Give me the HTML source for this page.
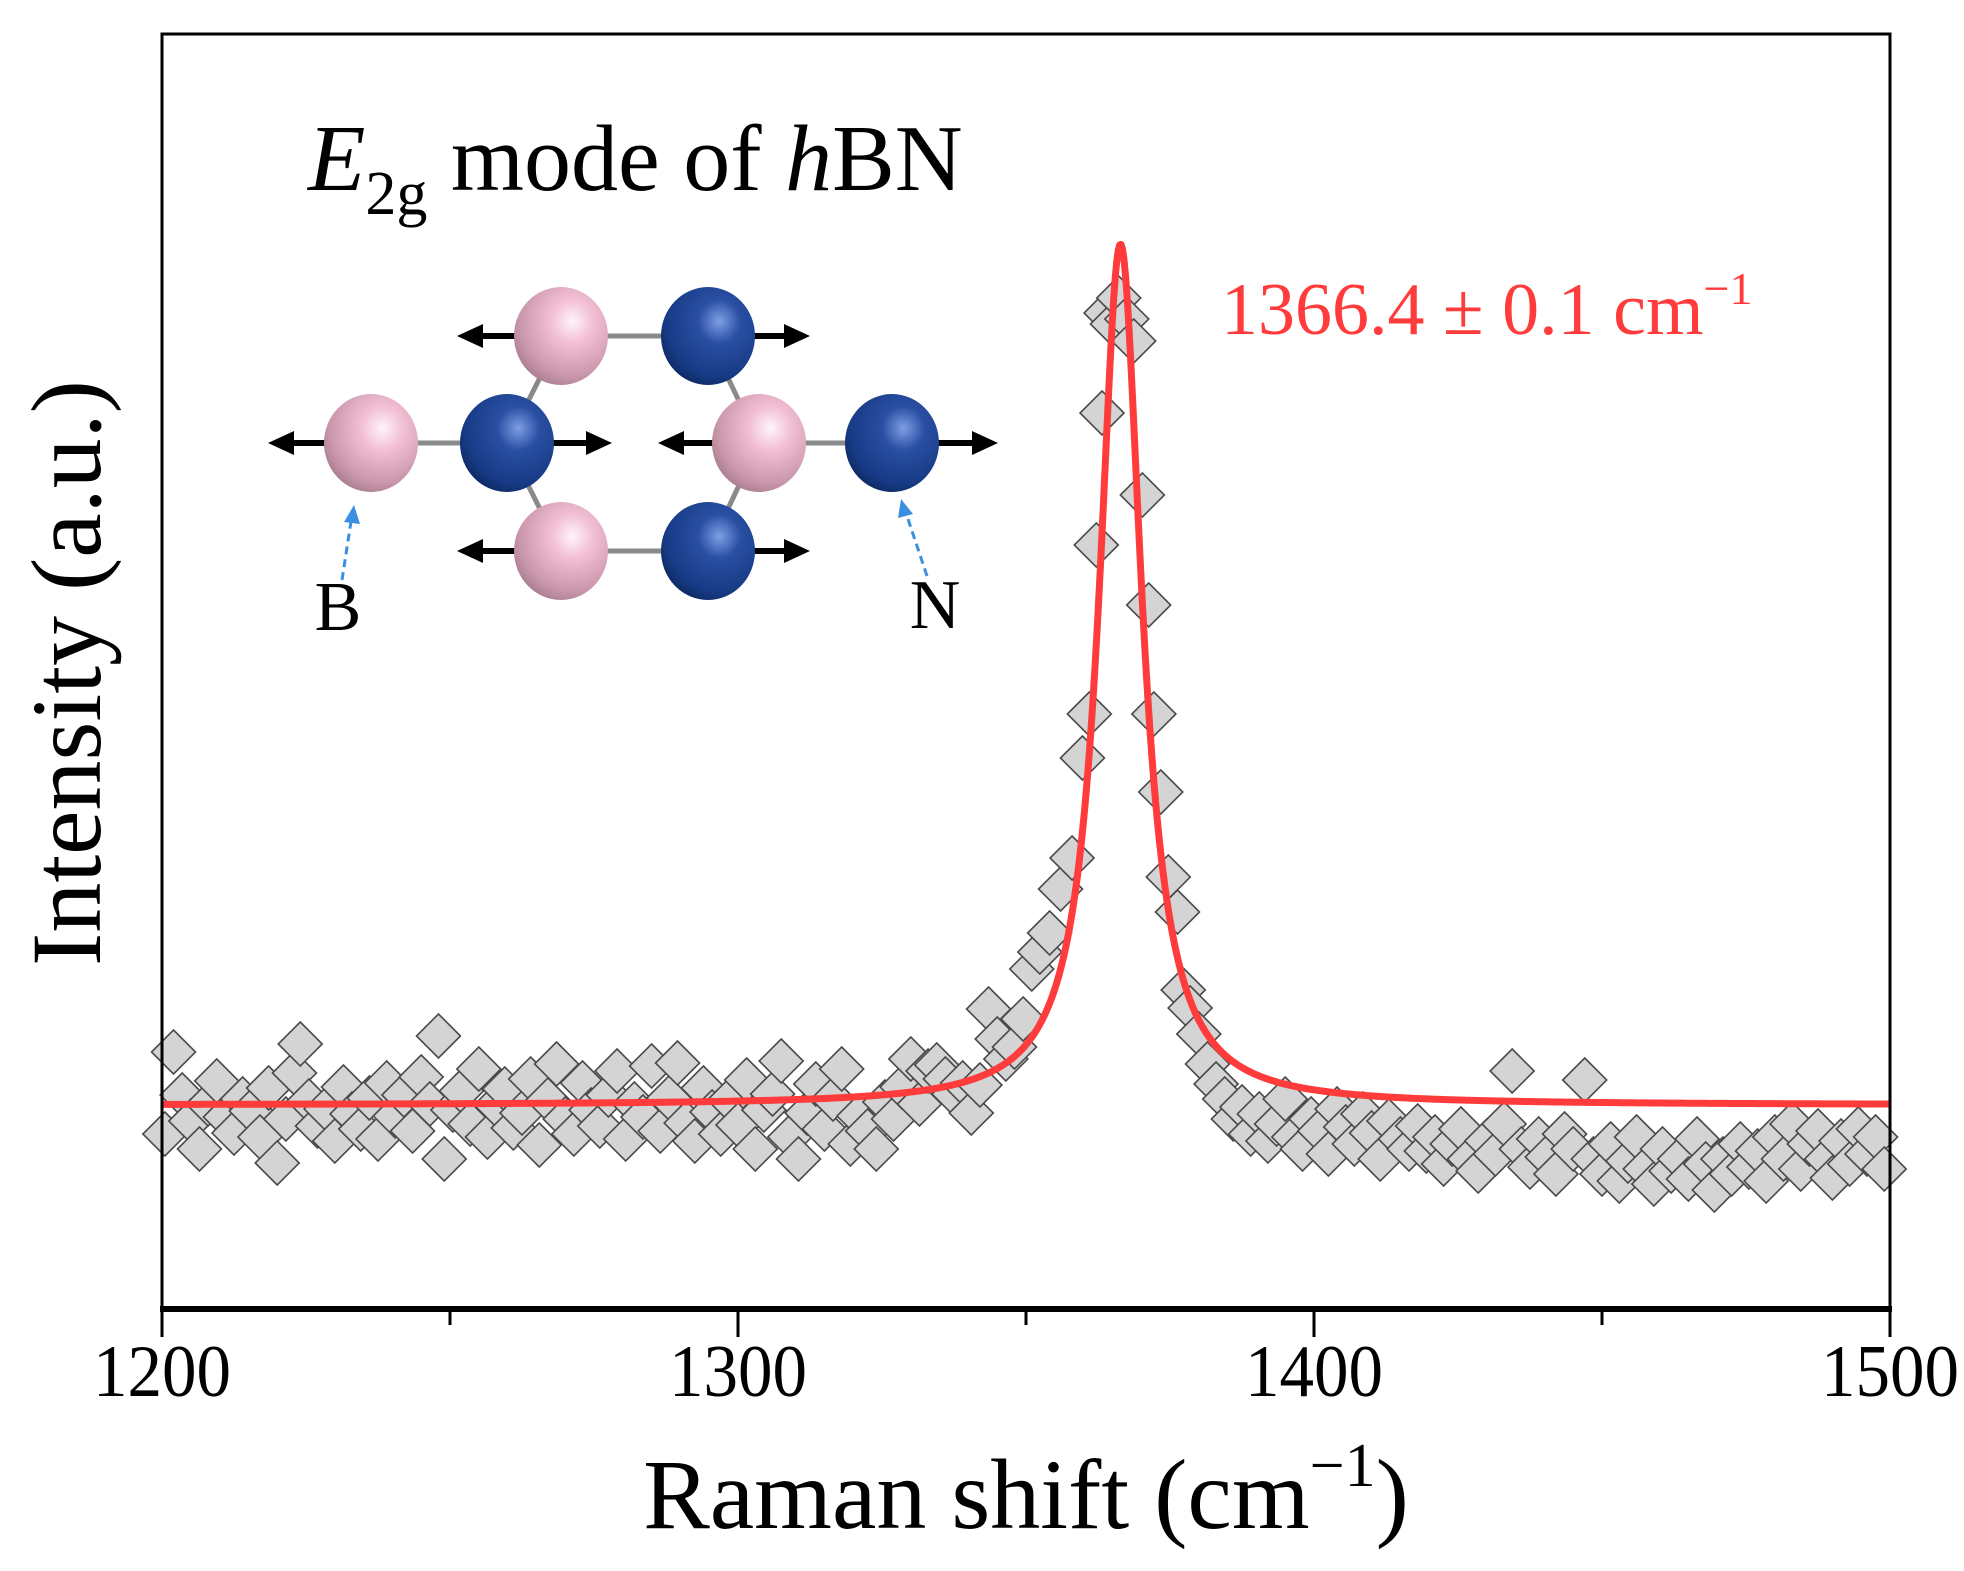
<!DOCTYPE html>
<html><head><meta charset="utf-8"><style>
html,body{margin:0;padding:0;background:#fff;}
svg{display:block;font-family:"Liberation Serif",serif;}
</style></head><body>
<svg id="chart" width="1964" height="1571" viewBox="0 0 1964 1571" xmlns="http://www.w3.org/2000/svg">
<defs>
<radialGradient id="gPink" cx="0.62" cy="0.35" r="0.75">
<stop offset="0" stop-color="#fff4fa"/><stop offset="0.3" stop-color="#f2bfd4"/><stop offset="0.75" stop-color="#c996ab"/><stop offset="1" stop-color="#9e7586"/>
</radialGradient>
<radialGradient id="gBlue" cx="0.62" cy="0.35" r="0.75">
<stop offset="0" stop-color="#7f9ee6"/><stop offset="0.3" stop-color="#2a4fa3"/><stop offset="0.75" stop-color="#173b85"/><stop offset="1" stop-color="#0b2459"/>
</radialGradient>
<marker id="ah" markerWidth="26" markerHeight="24" refX="4" refY="12" orient="auto" markerUnits="userSpaceOnUse" viewBox="0 0 26 24"><path d="M0,0 L26,12 L0,24 z" fill="#000"/></marker>
</defs>
<g id="marks"></g>
<g id="axes"></g>
<g id="inset"></g>
<text x="308" y="190" font-size="94"><tspan font-style="italic">E</tspan><tspan font-size="62" dy="24">2g</tspan><tspan dy="-24"> mode of </tspan><tspan font-style="italic">h</tspan><tspan>BN</tspan></text>
<text x="1221" y="334" font-size="74" fill="#ff3b3b">1366.4 ± 0.1 cm<tspan font-size="46" dy="-30">−1</tspan></text>
<text x="1026" y="1528" font-size="100" text-anchor="middle">Raman shift (cm<tspan font-size="62" dy="-42">−1</tspan><tspan dy="42">)</tspan></text>
<text transform="translate(100,673) rotate(-90)" font-size="100" text-anchor="middle">Intensity (a.u.)</text>
</svg>
<script>
const xData = [1200.5,1202,1203.5,1205,1206.5,1208,1209.5,1211,1212.5,1214,1215.5,1217,1218.5,1220,1221.5,1223,1224,1225.5,1227,1228.5,1230,1231.5,1233,1234.5,1236,1237.5,1239,1240.5,1242,1243.5,1245,1246.5,1248,1249,1250.5,1252,1253.5,1255,1256.5,1258,1259.5,1261,1262.5,1264,1265.5,1267,1268.5,1270,1271.5,1273,1274.5,1276,1277.5,1279,1280.5,1282,1283.5,1285,1286.5,1288,1289.5,1291,1292.5,1294,1295.5,1297,1298.5,1300,1301.5,1303,1304.5,1306,1307.5,1309,1310.5,1312,1313.5,1315,1316.5,1318,1319.5,1321,1322.5,1324,1325.5,1327,1328.5,1330,1331.5,1333,1334.5,1336,1337.5,1339,1340.5,1342,1343.5,1345,1346.5,1348,1349.5,1351,1352.4,1354.1,1356,1358,1359.8,1361,1362.2,1363.2,1363.9,1365,1366.1,1367.5,1368.7,1370.2,1371.3,1372.2,1373.4,1374.7,1376.3,1377.3,1378.5,1380,1381.5,1383,1384.5,1386,1387.5,1389,1390.5,1392,1393.5,1395,1396.5,1398,1399.5,1401,1402.5,1404,1405.5,1407,1408.5,1410,1411.5,1413,1415,1416.5,1418,1419.5,1421,1422.5,1424,1425.5,1427,1428.5,1430,1431.5,1433,1434.4,1436,1437.5,1439,1440.5,1442,1443.5,1445,1447,1448.5,1450,1451.5,1453,1454.5,1456,1457.5,1459,1460.5,1462,1463.5,1465,1466.5,1468,1469.5,1471,1472.5,1474,1475.5,1477,1478.5,1480,1481.5,1483,1484.5,1486,1487.5,1489,1490,1491.5,1493,1494.5,1496,1497.5,1499];
const yData = [175,257,214,188,160,205,228,192,176,210,198,172,221,146,190,236,265,208,183,200,168,222,195,180,211,170,226,193,214,178,232,205,273,150,199,218,185,240,172,204,220,181,196,230,164,209,245,190,175,226,199,183,214,238,170,205,192,243,178,211,246,186,168,221,197,175,209,184,229,160,199,215,248,172,150,196,225,180,210,240,165,193,178,160,207,190,222,250,205,238,244,230,215,226,196,224,300,270,250,262,290,340,357,376,420,451,551,595,764,896,996,985,1011,990,968,814,704,595,517,432,397,319,301,275,245,225,210,190,202,175,195,168,185,210,172,160,190,178,155,200,182,165,195,176,150,188,170,160,183,158,172,145,165,180,150,138,168,155,185,238,160,142,170,152,135,175,160,229,150,135,165,128,148,172,140,125,160,138,150,130,170,145,119,150,135,165,142,158,128,172,150,185,140,165,178,150,131,168,145,180,155,172,140];
const fitCenter = [1366.4];
const fitFwhm = [9];
const fitAmplitude = [861];
const fitBaseline = [204];
const xTicks = [1200,1300,1400,1500];
const xMinorTicks = [1250,1350,1450];

const L=162,R=1890,T=34,B=1309;
const xMin=1200,xMax=1500;
function sx(v){return L+(v-xMin)/(xMax-xMin)*(R-L);}
function sy(v){return B-v;}
const NS="http://www.w3.org/2000/svg";
function mk(tag,attrs,parent){const e=document.createElementNS(NS,tag);for(const k in attrs)e.setAttribute(k,attrs[k]);parent.appendChild(e);return e;}

const marks=document.getElementById('marks');
const h=22;
for(let i=0;i<xData.length;i++){
  const cx=sx(xData[i]),cy=sy(yData[i]);
  const p=mk('path',{d:`M${cx},${cy-h} L${cx+h},${cy} L${cx},${cy+h} L${cx-h},${cy} Z`,fill:'#d4d4d4',stroke:'#4a4a4a','stroke-width':1.6},marks);
  
  
}
let d='';
for(let x=xMin;x<=xMax;x+=0.25){
  const u=(x-fitCenter[0])/(fitFwhm[0]/2);
  const v=fitBaseline[0]+fitAmplitude[0]/(1+u*u);
  d+=(d?'L':'M')+sx(x).toFixed(2)+','+sy(v).toFixed(2);
}
const fit=mk('path',{d:d,fill:'none',stroke:'#ff3b3b','stroke-width':7,'stroke-linejoin':'round'},marks);



const ax=document.getElementById('axes');
const fr=mk('rect',{x:L,y:T,width:R-L,height:B-T,fill:'none',stroke:'#000','stroke-width':3},ax);


const xl=mk('line',{x1:L-2,y1:B,x2:R+2,y2:B,stroke:'#000','stroke-width':6},ax);


xTicks.forEach(t=>{
  const tk=mk('line',{x1:sx(t),y1:B,x2:sx(t),y2:B+28,stroke:'#000','stroke-width':3},ax);
  
  
  const lb=mk('text',{x:sx(t)-69,y:1396,'font-size':74,textLength:138,lengthAdjust:'spacingAndGlyphs'},ax);
  lb.textContent=t;
  
  
});
xMinorTicks.forEach(t=>{
  const tk=mk('line',{x1:sx(t),y1:B,x2:sx(t),y2:B+16,stroke:'#000','stroke-width':3},ax);
  
  
});

const ins=document.getElementById('inset');
const atoms={p1:[561,336,'B'],b1:[708,336,'N'],p2:[371,443,'B'],b2:[507,443,'N'],p3:[759,443,'B'],b3:[892,443,'N'],p4:[561,551,'B'],b4:[708,551,'N']};
const bonds=[['p1','b1'],['b1','p3'],['p3','b4'],['b4','p4'],['p4','b2'],['b2','p1'],['p2','b2'],['p3','b3']];
bonds.forEach(bd=>{
  const a=atoms[bd[0]],b=atoms[bd[1]];
  const l=mk('line',{x1:a[0],y1:a[1],x2:b[0],y2:b[1],stroke:'#8a8a8a','stroke-width':5},ins);
  
  
});
const arrows=[[561,457],[708,810],[371,268],[507,612],[759,658],[892,998],[561,457],[708,810]];
Object.keys(atoms).forEach((k,i)=>{
  const a=atoms[k];
  const left=arrows[i][1]<a[0];
  const x0=a[0]+(left?-40:40);
  const x1=arrows[i][1]+(left?22:-22);
  const ar=mk('line',{x1:x0,y1:a[1],x2:x1,y2:a[1],stroke:'#000','stroke-width':6,'marker-end':'url(#ah)'},ins);
  
  
});
Object.keys(atoms).forEach(k=>{
  const a=atoms[k];
  const c=mk('ellipse',{cx:a[0],cy:a[1],rx:47,ry:49,fill:a[2]==='B'?'url(#gPink)':'url(#gBlue)'},ins);
  
  
});
const d1=mk('line',{x1:342,y1:580,x2:352,y2:515,stroke:'#3a8fe0','stroke-width':3,'stroke-dasharray':'8,5'},ins);


mk('path',{d:'M354,505 L344,522 L360,524 Z',fill:'#3a8fe0'},ins);
const d2=mk('line',{x1:927,y1:576,x2:905,y2:510,stroke:'#3a8fe0','stroke-width':3,'stroke-dasharray':'8,5'},ins);


mk('path',{d:'M901,499 L898,518 L913,514 Z',fill:'#3a8fe0'},ins);
const tb=mk('text',{x:338,y:630,'font-size':70,'text-anchor':'middle'},ins);
tb.textContent='B';


const tn=mk('text',{x:935,y:628,'font-size':70,'text-anchor':'middle'},ins);
tn.textContent='N';


</script>
</body></html>
